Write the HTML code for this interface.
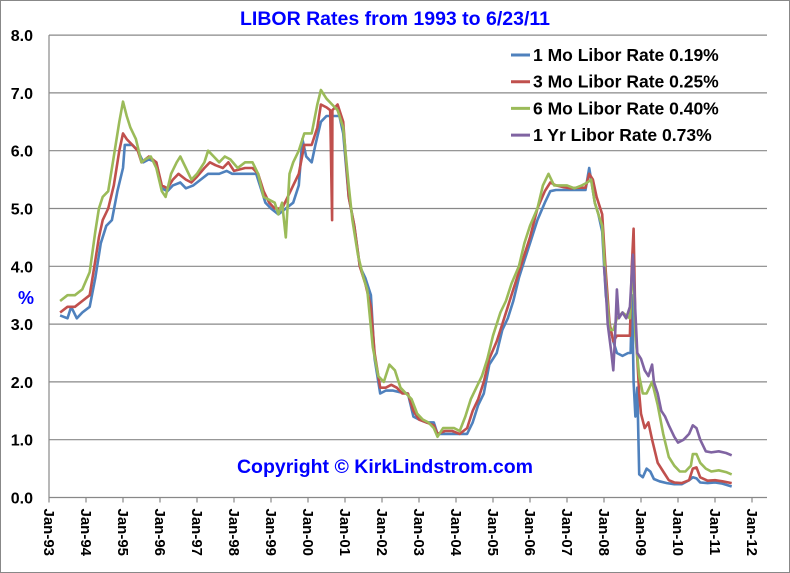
<!DOCTYPE html>
<html><head><meta charset="utf-8"><style>
body{margin:0;background:#fff;}
svg{display:block;font-family:"Liberation Sans",sans-serif;}
</style></head><body>
<svg id="chart" width="790" height="573" viewBox="0 0 790 573">
<rect x="0.5" y="0.5" width="789" height="572" fill="#fff" stroke="#888"/>
<text x="395" y="25" text-anchor="middle" font-size="19.5" font-weight="bold" fill="#0000ff">LIBOR Rates from 1993 to 6/23/11</text>
<g id="grid"></g>
<g id="yaxis"></g>
<g id="xaxis"></g>
<text x="26" y="304" text-anchor="middle" font-size="18" font-weight="bold" fill="#0000ff">%</text>
<g id="series"></g>
<text x="385" y="473" text-anchor="middle" font-size="19.5" font-weight="bold" fill="#0000ff">Copyright © KirkLindstrom.com</text>
<g id="legend"></g>
</svg>
<script>
const yTicks=[0,1,2,3,4,5,6,7,8];
const xTickLabels=["Jan-93","Jan-94","Jan-95","Jan-96","Jan-97","Jan-98","Jan-99","Jan-00","Jan-01","Jan-02","Jan-03","Jan-04","Jan-05","Jan-06","Jan-07","Jan-08","Jan-09","Jan-10","Jan-11","Jan-12"];
const xTickYears=[1993,1994,1995,1996,1997,1998,1999,2000,2001,2002,2003,2004,2005,2006,2007,2008,2009,2010,2011,2012];
const seriesNames=["1 Mo Libor Rate 0.19%","3 Mo Libor Rate 0.25%","6 Mo Libor Rate 0.40%","1 Yr Libor Rate 0.73%"];
const seriesColors=["#4F81BD","#C0504D","#9BBB59","#8064A2"];
const mo1T=[1993.3,1993.5,1993.6,1993.75,1993.9,1994.1,1994.25,1994.4,1994.55,1994.7,1994.85,1995.0,1995.05,1995.15,1995.25,1995.4,1995.55,1995.7,1995.9,1996.05,1996.2,1996.35,1996.55,1996.7,1996.9,1997.1,1997.3,1997.45,1997.6,1997.8,1997.95,1998.2,1998.45,1998.6,1998.7,1998.85,1999.0,1999.2,1999.4,1999.6,1999.75,1999.85,1999.95,2000.1,2000.2,2000.35,2000.5,2000.7,2000.85,2000.95,2001.1,2001.25,2001.4,2001.55,2001.7,2001.8,2001.95,2002.1,2002.3,2002.5,2002.7,2002.85,2003.0,2003.2,2003.4,2003.5,2003.7,2003.9,2004.1,2004.3,2004.45,2004.6,2004.75,2004.9,2005.1,2005.25,2005.4,2005.55,2005.7,2005.85,2006.0,2006.2,2006.4,2006.55,2006.7,2006.9,2007.1,2007.3,2007.5,2007.6,2007.65,2007.75,2007.85,2007.95,2008.05,2008.15,2008.25,2008.35,2008.5,2008.65,2008.72,2008.76,2008.8,2008.85,2008.9,2008.95,2009.05,2009.15,2009.25,2009.35,2009.5,2009.7,2009.9,2010.1,2010.3,2010.4,2010.5,2010.6,2010.8,2011.0,2011.2,2011.45];
const mo1V=[3.15,3.1,3.3,3.1,3.2,3.3,3.8,4.4,4.7,4.8,5.3,5.7,6.1,6.1,6.1,6.0,5.8,5.85,5.8,5.35,5.3,5.4,5.45,5.35,5.4,5.5,5.6,5.6,5.6,5.65,5.6,5.6,5.6,5.6,5.4,5.1,5.0,4.9,5.0,5.1,5.4,6.2,5.9,5.8,6.1,6.5,6.6,6.6,6.6,6.3,5.2,4.7,4.0,3.8,3.5,2.4,1.8,1.85,1.85,1.82,1.8,1.4,1.35,1.3,1.3,1.1,1.1,1.1,1.1,1.1,1.3,1.6,1.8,2.3,2.5,2.9,3.1,3.4,3.8,4.1,4.4,4.8,5.1,5.3,5.32,5.32,5.32,5.32,5.32,5.7,5.5,5.1,4.9,4.6,3.5,3.0,2.7,2.5,2.45,2.5,2.5,3.5,2.0,1.4,1.9,0.4,0.35,0.5,0.45,0.32,0.28,0.25,0.23,0.23,0.3,0.35,0.33,0.26,0.25,0.26,0.24,0.19];
const mo3T=[1993.3,1993.5,1993.7,1993.9,1994.1,1994.25,1994.35,1994.45,1994.6,1994.75,1994.9,1995.0,1995.1,1995.25,1995.4,1995.5,1995.7,1995.9,1996.05,1996.2,1996.35,1996.5,1996.7,1996.85,1997.0,1997.2,1997.35,1997.5,1997.7,1997.85,1998.0,1998.3,1998.5,1998.65,1998.8,1998.95,1999.1,1999.3,1999.45,1999.6,1999.75,1999.9,2000.1,2000.25,2000.35,2000.5,2000.6,2000.65,2000.66,2000.8,2000.95,2001.1,2001.25,2001.4,2001.55,2001.7,2001.8,2001.95,2002.1,2002.25,2002.4,2002.55,2002.7,2002.85,2003.0,2003.2,2003.4,2003.5,2003.7,2003.9,2004.1,2004.3,2004.45,2004.6,2004.75,2004.9,2005.1,2005.25,2005.4,2005.55,2005.7,2005.85,2006.0,2006.2,2006.4,2006.55,2006.7,2006.9,2007.1,2007.3,2007.5,2007.6,2007.7,2007.8,2007.95,2008.05,2008.15,2008.25,2008.35,2008.45,2008.6,2008.7,2008.75,2008.8,2008.85,2008.95,2009.0,2009.1,2009.2,2009.3,2009.45,2009.6,2009.75,2009.9,2010.1,2010.3,2010.4,2010.5,2010.6,2010.8,2011.0,2011.2,2011.45];
const mo3V=[3.2,3.3,3.3,3.4,3.5,4.1,4.5,4.8,5.0,5.4,6.0,6.3,6.2,6.1,6.0,5.8,5.9,5.8,5.4,5.35,5.5,5.6,5.5,5.45,5.55,5.7,5.8,5.75,5.7,5.8,5.65,5.7,5.7,5.6,5.3,5.1,5.0,5.0,5.2,5.4,5.6,6.1,6.1,6.4,6.8,6.75,6.7,4.8,6.7,6.8,6.5,5.2,4.7,4.0,3.7,3.3,2.5,1.9,1.9,1.95,1.9,1.8,1.8,1.5,1.35,1.3,1.25,1.1,1.15,1.15,1.1,1.2,1.5,1.7,2.0,2.4,2.7,3.0,3.3,3.6,3.9,4.2,4.5,5.0,5.3,5.45,5.4,5.37,5.35,5.36,5.36,5.6,5.5,5.2,4.9,3.9,3.0,2.7,2.8,2.8,2.8,2.8,4.0,4.65,3.0,1.8,1.45,1.2,1.3,1.0,0.6,0.45,0.3,0.26,0.25,0.3,0.5,0.52,0.35,0.29,0.3,0.28,0.25];
const mo6T=[1993.3,1993.5,1993.7,1993.9,1994.1,1994.25,1994.35,1994.45,1994.6,1994.75,1994.9,1995.0,1995.1,1995.2,1995.35,1995.5,1995.6,1995.75,1995.9,1996.05,1996.15,1996.3,1996.45,1996.55,1996.7,1996.85,1997.0,1997.2,1997.3,1997.45,1997.6,1997.75,1997.9,1998.1,1998.3,1998.5,1998.65,1998.8,1998.95,1999.1,1999.2,1999.3,1999.4,1999.5,1999.6,1999.75,1999.9,2000.1,2000.25,2000.35,2000.5,2000.65,2000.8,2000.95,2001.1,2001.2,2001.35,2001.5,2001.6,2001.75,2001.9,2002.05,2002.2,2002.35,2002.5,2002.65,2002.8,2002.95,2003.1,2003.25,2003.4,2003.5,2003.65,2003.8,2003.95,2004.1,2004.25,2004.4,2004.55,2004.7,2004.85,2005.0,2005.2,2005.35,2005.5,2005.7,2005.85,2006.0,2006.2,2006.35,2006.5,2006.65,2006.8,2007.0,2007.2,2007.4,2007.55,2007.65,2007.75,2007.85,2007.95,2008.05,2008.15,2008.25,2008.35,2008.5,2008.6,2008.7,2008.75,2008.8,2008.85,2008.95,2009.05,2009.15,2009.3,2009.45,2009.6,2009.75,2009.9,2010.05,2010.2,2010.35,2010.4,2010.5,2010.6,2010.75,2010.9,2011.1,2011.3,2011.45];
const mo6V=[3.4,3.5,3.5,3.6,3.9,4.6,5.0,5.2,5.3,5.9,6.5,6.85,6.6,6.4,6.2,5.8,5.85,5.9,5.7,5.3,5.2,5.6,5.8,5.9,5.7,5.5,5.6,5.8,6.0,5.9,5.8,5.9,5.85,5.7,5.8,5.8,5.6,5.2,5.15,5.1,4.9,5.1,4.5,5.6,5.8,6.0,6.3,6.3,6.8,7.05,6.9,6.8,6.7,6.4,5.4,4.8,4.2,3.8,3.6,2.6,2.1,2.0,2.3,2.2,1.9,1.8,1.7,1.45,1.35,1.3,1.2,1.05,1.2,1.2,1.2,1.15,1.4,1.7,1.9,2.1,2.4,2.8,3.2,3.4,3.7,4.0,4.4,4.7,5.0,5.4,5.6,5.4,5.4,5.4,5.35,5.4,5.45,5.5,5.1,4.9,4.7,3.7,2.9,2.9,3.1,3.2,3.15,3.1,3.7,3.9,2.8,2.1,1.8,1.8,2.0,1.6,1.1,0.7,0.55,0.45,0.45,0.55,0.75,0.75,0.6,0.5,0.45,0.47,0.44,0.4];
const yr1T=[2008.0,2008.05,2008.1,2008.2,2008.25,2008.3,2008.35,2008.4,2008.5,2008.6,2008.7,2008.78,2008.85,2008.9,2009.0,2009.1,2009.2,2009.3,2009.35,2009.45,2009.55,2009.65,2009.75,2009.9,2010.0,2010.15,2010.3,2010.4,2010.5,2010.6,2010.75,2010.9,2011.1,2011.3,2011.45];
const yr1V=[4.0,3.6,3.0,2.5,2.2,2.8,3.6,3.1,3.2,3.1,3.3,4.2,3.2,2.5,2.4,2.2,2.1,2.3,2.0,1.8,1.5,1.4,1.25,1.05,0.95,1.0,1.1,1.25,1.2,1.0,0.8,0.78,0.8,0.77,0.73];

const NS="http://www.w3.org/2000/svg";
const X0=49,X1=767,YEAR0=1993,PXY=37,Y0=497.5,PXV=57.8;
function xs(t){return X0+(t-YEAR0)*PXY;}
function ys(v){return Y0-v*PXV;}
function mk(tag,attrs,parent){const e=document.createElementNS(NS,tag);for(const k in attrs)e.setAttribute(k,attrs[k]);parent.appendChild(e);return e;}
const grid=document.getElementById('grid'),yax=document.getElementById('yaxis'),xax=document.getElementById('xaxis');
yTicks.forEach(v=>{
  if(v>0){const l=mk('line',{x1:X0,x2:X1,y1:ys(v),y2:ys(v),stroke:'#888','stroke-width':1.2},grid);
  
  }
  const t=mk('text',{x:33,y:ys(v)+6,'text-anchor':'end','font-size':16,'font-weight':'bold',fill:'#000'},yax);
  t.textContent=v.toFixed(1);
  
  
});
const ya=mk('line',{x1:X0,x2:X0,y1:ys(8),y2:Y0,stroke:'#888','stroke-width':1.2},yax);


const xa=mk('line',{x1:X0,x2:X1,y1:Y0,y2:Y0,stroke:'#888','stroke-width':1.2},xax);


xTickYears.forEach((yr,i)=>{
  const x=xs(yr);
  const tk=mk('line',{x1:x,x2:x,y1:Y0,y2:Y0+5,stroke:'#888','stroke-width':1.2},xax);
  
  
  const t=mk('text',{x:0,y:0,'font-size':15,'font-weight':'bold',fill:'#000',transform:`translate(${x-5},${Y0+11}) rotate(90)`},xax);
  t.textContent=xTickLabels[i];
  
  
});
const sg=document.getElementById('series');
const allT=[mo1T,mo3T,mo6T,yr1T],allV=[mo1V,mo3V,mo6V,yr1V],keys=['series-1mo','series-3mo','series-6mo','series-1yr'];
allT.forEach((T,s)=>{
  const pts=T.map((t,i)=>xs(t).toFixed(1)+','+ys(allV[s][i]).toFixed(1)).join(' ');
  const p=mk('polyline',{points:pts,fill:'none',stroke:seriesColors[s],'stroke-width':2.6,'stroke-linejoin':'round'},sg);
  
  
});
const lg=document.getElementById('legend');
seriesNames.forEach((n,i)=>{
  const y=55+i*26.7;
  const l=mk('line',{x1:511,x2:530,y1:y,y2:y,stroke:seriesColors[i],'stroke-width':3},lg);
  
  
  const t=mk('text',{x:533,y:y+6,'font-size':17.5,'font-weight':'bold',fill:'#000'},lg);
  t.textContent=n;
  
  
});
</script>
</body></html>
